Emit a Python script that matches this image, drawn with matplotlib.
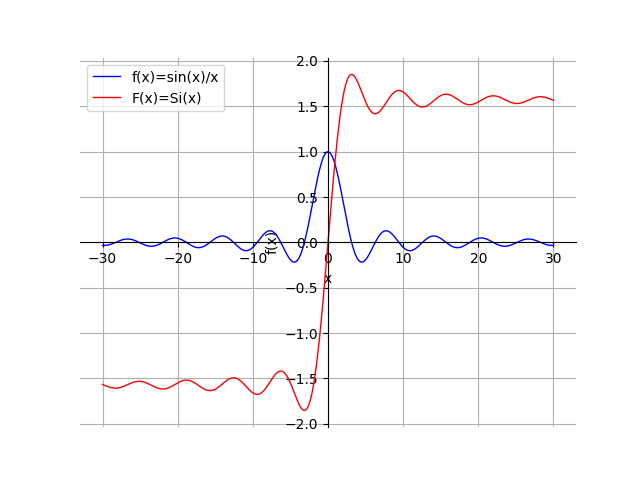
import matplotlib
matplotlib.use("Agg")
import matplotlib.pyplot as plt
import numpy as np

# x range and sampling of the plotted functions
x_min, x_max, n_points = -30, 30, 3001
labels = ["f(x)=sin(x)/x", "F(x)=Si(x)"]
colors = ["blue", "red"]

x = np.linspace(x_min, x_max, n_points)
f = np.sinc(x / np.pi)  # sin(x)/x

# Si(x) = integral of sin(t)/t from 0 to x (trapezoid rule)
cum = np.concatenate([[0], np.cumsum((f[1:] + f[:-1]) / 2 * np.diff(x))])
F = cum - np.interp(0, x, cum)

fig, ax = plt.subplots(figsize=(6.4, 4.8), dpi=100)
ax.plot(x, f, color=colors[0], lw=1, label=labels[0])
ax.plot(x, F, color=colors[1], lw=1, label=labels[1])

ax.spines["left"].set_position("zero")
ax.spines["bottom"].set_position("zero")
ax.spines["right"].set_visible(False)
ax.spines["top"].set_visible(False)

ax.set_xlabel("x")
ax.set_ylabel("f(x)")
ax.grid(True)
ax.legend(loc="upper left")
plt.savefig("out.png")
